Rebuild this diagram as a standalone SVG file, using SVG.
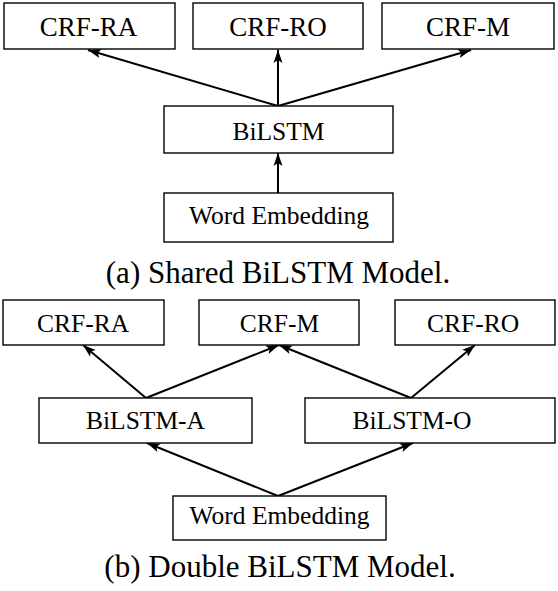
<svg xmlns="http://www.w3.org/2000/svg" width="558" height="591" viewBox="0 0 558 591">
<style>
.box{fill:#fff;stroke:#000;stroke-width:1.4}
.t{font-family:"Liberation Serif","Times New Roman",serif;fill:#000;text-anchor:middle}
.big{font-size:27px}
.mid{font-size:25.5px}
.cap{font-size:31px}
.edge{stroke:#000;stroke-width:2;fill:none;marker-end:url(#ah)}
</style>
<defs>
<marker id="ah" markerUnits="userSpaceOnUse" markerWidth="14" markerHeight="10" refX="13" refY="5" orient="auto">
<path d="M0,0.5 L13,5 L0,9.5 L3,5 z" fill="#000"/>
</marker>
</defs>
<rect width="558" height="591" fill="#fff"/>
<g id="connectors">
<line class="edge" x1="278" y1="106" x2="88" y2="50"/>
<line class="edge" x1="278" y1="106" x2="278" y2="50"/>
<line class="edge" x1="278" y1="106" x2="471" y2="50"/>
<line class="edge" x1="278" y1="193" x2="278" y2="153"/>
<line class="edge" x1="146" y1="398" x2="83" y2="345"/>
<line class="edge" x1="146" y1="398" x2="279" y2="345"/>
<line class="edge" x1="411" y1="398" x2="279" y2="345"/>
<line class="edge" x1="411" y1="398" x2="475" y2="345"/>
<line class="edge" x1="278" y1="496" x2="147" y2="443"/>
<line class="edge" x1="278" y1="496" x2="413" y2="443"/>
</g>
<g id="a_crf_ra"><rect class="box" x="4" y="3" width="171" height="46"/><text class="t big" x="88.5" y="36">CRF-RA</text></g>
<g id="a_crf_ro"><rect class="box" x="193" y="3" width="170" height="46"/><text class="t big" x="278" y="36">CRF-RO</text></g>
<g id="a_crf_m"><rect class="box" x="382" y="3" width="172" height="46"/><text class="t big" x="468" y="36">CRF-M</text></g>
<g id="a_bilstm"><rect class="box" x="164" y="106" width="229" height="47"/><text class="t mid" x="278.5" y="140">BiLSTM</text></g>
<g id="a_we"><rect class="box" x="164" y="193" width="229" height="49"/><text class="t mid" x="279" y="224">Word Embedding</text></g>
<text class="t cap" x="278" y="283">(a) Shared BiLSTM Model.</text>
<g id="b_crf_ra"><rect class="box" x="3" y="300" width="161" height="45"/><text class="t mid" x="83" y="332">CRF-RA</text></g>
<g id="b_crf_m"><rect class="box" x="199" y="300" width="160" height="45"/><text class="t mid" x="279.5" y="332">CRF-M</text></g>
<g id="b_crf_ro"><rect class="box" x="395" y="300" width="160" height="45"/><text class="t mid" x="473" y="332">CRF-RO</text></g>
<g id="b_bilstm_a"><rect class="box" x="39" y="398" width="213" height="45"/><text class="t mid" x="145.5" y="429">BiLSTM-A</text></g>
<g id="b_bilstm_o"><rect class="box" x="305" y="398" width="250" height="45"/><text class="t mid" x="412" y="429">BiLSTM-O</text></g>
<g id="b_we"><rect class="box" x="173" y="496" width="213" height="44"/><text class="t mid" x="279.5" y="524">Word Embedding</text></g>
<text class="t cap" x="280" y="577">(b) Double BiLSTM Model.</text>
</svg>
